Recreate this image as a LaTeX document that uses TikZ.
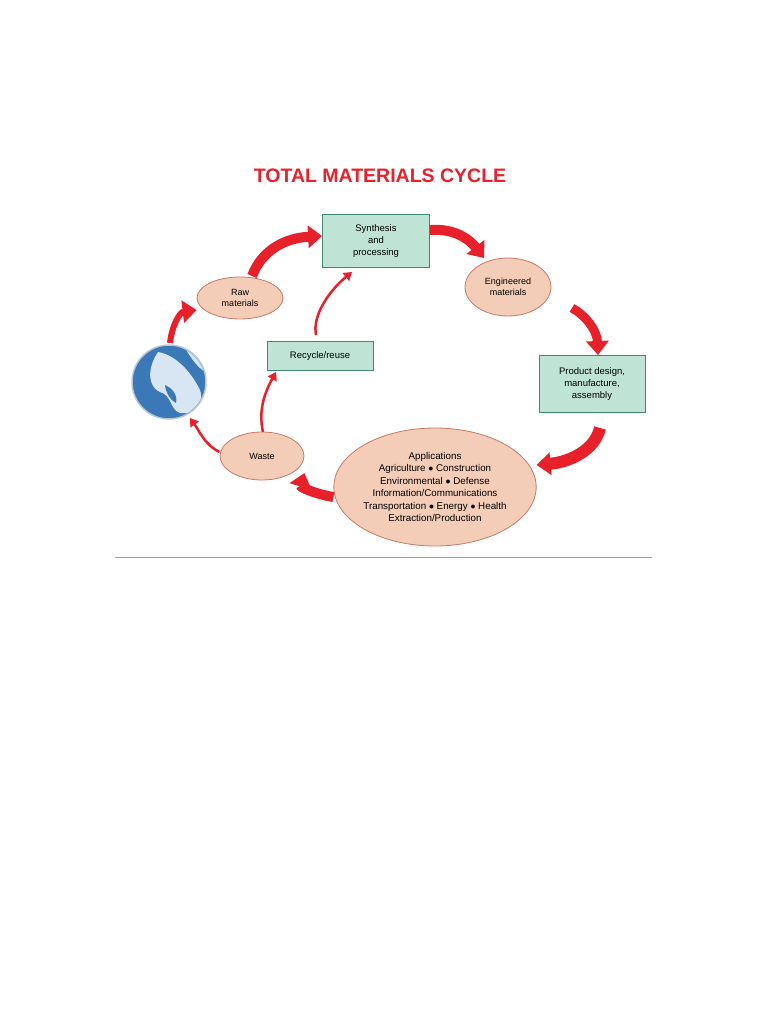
\documentclass[tikz,border=0pt]{standalone}
\usepackage{fontspec}
\setmainfont{Liberation Sans}
\usetikzlibrary{arrows.meta,shapes.geometric}
\definecolor{ered}{HTML}{E8202A}
\definecolor{ellfill}{HTML}{F4CDB8}
\definecolor{ellline}{HTML}{C47A66}
\definecolor{boxfill}{HTML}{BFE3D4}
\definecolor{boxline}{HTML}{3F8A72}
\definecolor{globeblue}{HTML}{3A78B8}
\definecolor{globelight}{HTML}{D8E6F4}
\definecolor{rule}{HTML}{E88080}
\tikzset{
 ell/.style={ellipse,draw=ellline,fill=ellfill,line width=0.8pt,inner sep=0pt,align=center,font=\fontsize{9}{11}\selectfont},
 bx/.style={rectangle,draw=boxline,fill=boxfill,line width=0.8pt,align=center,font=\fontsize{9.5}{12}\selectfont},
 fat/.style={draw=ered,line width=#1,-{Triangle[length=14pt,width=22pt]}},
 thin/.style={draw=ered,line width=2.5pt,-{Triangle[length=8pt,width=10pt]}}
}
\begin{document}
\begin{tikzpicture}[x=1pt,y=-1pt]
\useasboundingbox (0,0) rectangle (768,1024);
\node[text=ered,font=\bfseries\fontsize{19.5}{22}\selectfont] (title) at (380,176) {TOTAL MATERIALS CYCLE};
\node[bx,minimum width=107pt,minimum height=53pt] (syn) at (376,241) {Synthesis\\and\\processing};
\node[ell,minimum width=86pt,minimum height=42pt] (raw) at (240,298) {Raw\\materials};
\node[ell,minimum width=86pt,minimum height=58pt] (eng) at (508,287) {Engineered\\materials};
\node[bx,minimum width=106pt,minimum height=57pt] (prod) at (592,384) {Product design,\\manufacture,\\assembly};
\node[bx,minimum width=106pt,minimum height=29pt] (rec) at (320,356) {Recycle/reuse};
\node[ell,minimum width=84pt,minimum height=48pt] (waste) at (262,456) {Waste};
\node[ell,minimum width=184pt,minimum height=118pt,font=\fontsize{9.8}{12.5}\selectfont] (app) at (435,487) {Applications\\Agriculture $\bullet$ Construction\\Environmental $\bullet$ Defense\\Information/Communications\\Transportation $\bullet$ Energy $\bullet$ Health\\Extraction/Production};
% globe
\node[circle,draw=globelight!70!gray,line width=1.5pt,fill=globeblue,minimum size=74pt,inner sep=0pt] (globe) at (169,382) {};
\begin{scope}
\clip (169,382) circle (36);
\fill[globelight] (158,352) .. controls (175,355) and (190,370) .. (200,390) .. controls (205,405) and (195,415) .. (180,413) .. controls (170,410) and (172,395) .. (160,392) .. controls (150,388) and (145,372) .. (158,352) -- cycle;
\fill[globelight] (185,348) .. controls (195,350) and (205,360) .. (206,372) .. controls (200,370) and (192,360) .. (185,348) -- cycle;
\fill[globeblue] (165,385) .. controls (172,388) and (178,395) .. (176,403) .. controls (170,400) and (166,393) .. (165,385) -- cycle;
\end{scope}
\coordinate (c1) at (170,343);
\coordinate (c8) at (190,418);
\draw[fat=6pt] (c1) .. controls (172,325) and (180,312) .. (raw.west|-0,310);
\draw[fat=10pt] (252,276) .. controls (262,250) and (285,238) .. (syn.west|-0,236);
\draw[fat=10pt] (syn.east|-0,230) .. controls (455,228) and (470,240) .. (484,258);
\draw[fat=9pt] (572,308) .. controls (585,315) and (597,330) .. (598,355);
\draw[fat=12pt] (600,428) .. controls (595,450) and (570,462) .. (app.east|-0,465);
\draw[fat=10pt] (app.west|-0,497) .. controls (320,495) and (300,488) .. (waste.east|-0,473);
\draw[thin] (waste.west|-0,452) .. controls (205,445) and (200,432) .. (c8);
\draw[thin] (263,432) .. controls (258,410) and (265,392) .. (276,372);
\draw[thin] (316,335) .. controls (312,315) and (330,290) .. (352,272);
\draw[draw=rule,line width=0.8pt] (115,557) -- (652,557);
\end{tikzpicture}
\end{document}
